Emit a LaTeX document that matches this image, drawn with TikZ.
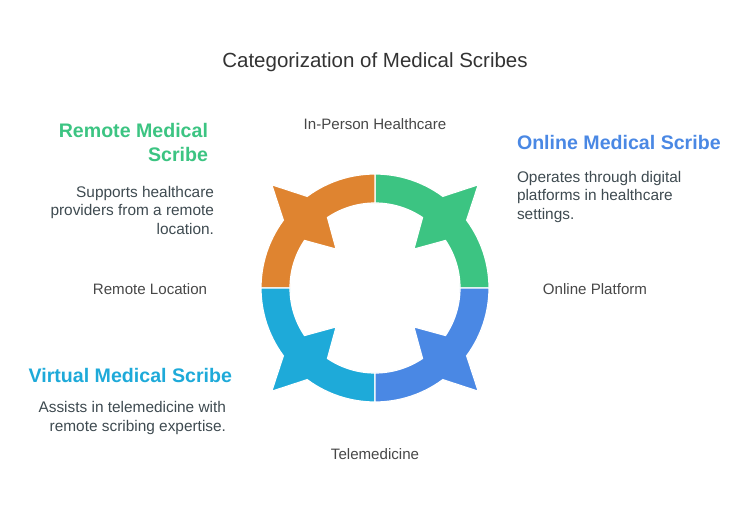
\documentclass[tikz,border=0pt]{standalone}
\usepackage{fontspec}
\setmainfont{Liberation Sans}
\usetikzlibrary{positioning}
\definecolor{mint}{HTML}{3CC482}
\definecolor{amber}{HTML}{DF8430}
\definecolor{azure}{HTML}{1EAAD9}
\definecolor{cornflower}{HTML}{4A88E4}
\definecolor{slate}{HTML}{3E4A50}
\definecolor{charcoal}{HTML}{333333}

\begin{document}
\begin{tikzpicture}[
  x=1pt, y=-1pt,
  every node/.style={inner sep=0pt, outer sep=0pt},
  title/.style={font=\fontsize{20.5}{24}\selectfont, text=charcoal},
  heading/.style={font=\fontsize{19.6}{24}\selectfont\bfseries},
  body/.style={font=\fontsize{15.4}{18.5}\selectfont, text=slate},
  label/.style={font=\fontsize{15.1}{18}\selectfont, text=charcoal!90},
  ringpart/.style={draw=white, line width=1.2pt, line join=miter}
]
\useasboundingbox (0,0) rectangle (750,529);

%% Title
\node[title] (title) at (375,62) {Categorization of Medical Scribes};

%% Ring: four quadrants with star spikes (mid angle / colour)
\foreach \m/\col in {-45/mint, -135/amber, 135/azure, 45/cornflower}{
  \fill[ringpart, fill=\col, shift={(375,288)}]
    (\m-45:114) arc[start angle=\m-45, end angle=\m-8.5, radius=114]
    -- (\m:146) -- (\m+8.5:114)
    arc[start angle=\m+8.5, end angle=\m+45, radius=114]
    -- (\m+45:85)
    arc[start angle=\m+45, end angle=\m+11, radius=85]
    -- (\m:55) -- (\m-11:85)
    arc[start angle=\m-11, end angle=\m-45, radius=85] -- cycle;
}

%% Labels around the ring
\node[label] (inperson) at (375,124) {In-Person Healthcare};
\node[label] (online) at (595,289) {Online Platform};
\node[label] (tele) at (375,454) {Telemedicine};
\node[label] (remote) at (150,289) {Remote Location};

%% Remote Medical Scribe (top left)
\node[heading, text=mint, align=right, anchor=east] (remotehead) at (208,142)
  {Remote Medical\\Scribe};
\node[body, align=right, anchor=east] (remotetext) at (214,210)
  {Supports healthcare\\providers from a remote\\location.};

%% Online Medical Scribe (top right)
\node[heading, text=cornflower, anchor=west] (onlinehead) at (517,142)
  {Online Medical Scribe};
\node[body, align=left, anchor=west] (onlinetext) at (517,197)
  {Operates through digital\\platforms in healthcare\\settings.};

%% Virtual Medical Scribe (bottom left)
\node[heading, text=azure, anchor=east] (virtualhead) at (232,375)
  {Virtual Medical Scribe};
\node[body, align=right, anchor=east] (virtualtext) at (226,418)
  {Assists in telemedicine with\\remote scribing expertise.};

\end{tikzpicture}
\end{document}
